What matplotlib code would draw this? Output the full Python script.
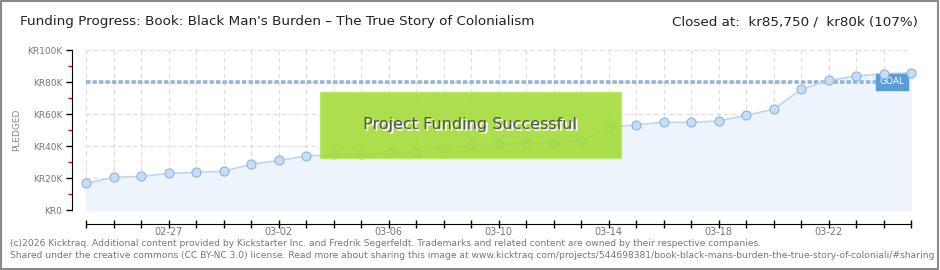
import datetime as dt

import matplotlib
matplotlib.use('Agg')
import matplotlib.pyplot as plt
import matplotlib.dates as mdates
from matplotlib.patches import Rectangle
from matplotlib.ticker import MultipleLocator, FuncFormatter

plt.rcParams['font.family'] = ['DejaVu Sans']

# data (thousands of kr pledged, one point per day)
start = dt.date(2016, 2, 24)
pledged = [16.7, 20.4, 21.0, 22.9, 23.5, 24.2, 28.5, 31.0, 33.6, 34.8,
           34.8, 35.4, 36.0, 38.7, 40.4, 41.0, 41.7, 41.7, 43.1, 51.7,
           53.3, 54.8, 54.8, 55.6, 59.2, 62.9, 75.4, 81.0, 83.7, 85.2, 85.75]
days = [start + dt.timedelta(days=i) for i in range(len(pledged))]
goal = 80

title = "Funding Progress: Book: Black Man's Burden \u2013 The True Story of Colonialism"
status = "Closed at:  kr85,750 /  kr80k (107%)"
footer1 = ("(c)2026 Kicktraq. Additional content provided by Kickstarter Inc. and Fredrik "
           "Segerfeldt. Trademarks and related content are owned by their respective companies.")
footer2 = ("Shared under the creative commons (CC BY-NC 3.0) license. Read more about sharing "
           "this image at www.kicktraq.com/projects/544698381/book-black-mans-burden-the-true-"
           "story-of-coloniali/#sharing")

fig = plt.figure(figsize=(9.4, 2.7), dpi=100)
ax = fig.add_axes([86 / 940, 1 - 210 / 270, 825 / 940, 160 / 270])

# frame around the whole image
fig.patches.append(Rectangle((0.001, 0.002), 0.997, 0.995, transform=fig.transFigure,
                             fill=False, edgecolor='#8a8a8a', linewidth=1.5))

ax.fill_between(days, pledged, 0, color='#edf4fc', zorder=1)
ax.plot(days, pledged, color='#bcd6f3', linewidth=1.2, zorder=3)
ax.plot(days, pledged, 'o', markersize=6.5, markerfacecolor='#c6ddf6',
        markeredgecolor='#93b3d8', markeredgewidth=0.8, zorder=4, clip_on=False)
ax.axhline(goal, color='#93b4da', linewidth=2.6, linestyle=(0, (1.2, 0.6)), zorder=2)

ax.set_xlim(days[0], days[-1])
ax.set_ylim(0, 100)

ax.grid(True, color='#dddddd', linestyle=(0, (4, 3)), linewidth=0.8)
ax.set_axisbelow(True)
ax.xaxis.set_major_locator(mdates.DayLocator())
ax.xaxis.set_major_formatter(FuncFormatter(
    lambda v, p: mdates.num2date(v).strftime('%m-%d') if (round(v) - mdates.date2num(days[3])) % 4 == 0 else ''))
ax.yaxis.set_major_locator(MultipleLocator(20))
ax.yaxis.set_minor_locator(MultipleLocator(10))
ax.yaxis.set_major_formatter(FuncFormatter(lambda v, p: 'KR%dK' % v if v else 'KR0'))

for s in ['top', 'right']:
    ax.spines[s].set_visible(False)
ax.spines['left'].set_position(('outward', 10))
ax.spines['bottom'].set_position(('outward', 10))
ax.tick_params(axis='x', direction='inout', length=6, width=1, colors='black',
               labelcolor='#777777', labelsize=7, pad=-1)
ax.tick_params(axis='y', which='major', direction='out', length=4, width=1,
               labelcolor='#777777', labelsize=6.5, pad=3)
ax.tick_params(axis='y', which='minor', direction='out', length=3, width=1, color='red')
ax.set_ylabel('PLEDGED', fontsize=6.5, color='#888888')
ax.yaxis.set_label_coords(-65 / 825, 0.5)

# goal tag
ax.text(0.992, goal, 'GOAL', transform=ax.get_yaxis_transform(), ha='right', va='center',
        fontsize=6.5, color='white', zorder=3.5,
        bbox=dict(boxstyle='square,pad=0.4', facecolor='#5b9bd8', edgecolor='#5b9bd8'))

# success banner
ax.add_patch(Rectangle((0.2836, 0.325), 0.365, 0.4125, transform=ax.transAxes,
                       facecolor='#a3dc3a', edgecolor='#b8e85c', alpha=0.9, zorder=5))
ax.text(0.4675, 0.525, 'Project Funding Successful', transform=ax.transAxes,
        ha='center', va='center', fontsize=11.5, color='white', zorder=6)
ax.text(0.4655, 0.535, 'Project Funding Successful', transform=ax.transAxes,
        ha='center', va='center', fontsize=11.5, color='#555555', zorder=7)

fig.text(20 / 940, 1 - 22 / 270, title, fontsize=9.7, color='#222222', va='center')
fig.text(918 / 940, 1 - 22 / 270, status, fontsize=9.7, color='#222222', va='center', ha='right')
fig.text(10 / 940, 1 - 243 / 270, footer1, fontsize=6.6, color='#777777', va='center')
fig.text(10 / 940, 1 - 256 / 270, footer2, fontsize=6.6, color='#777777', va='center')

fig.savefig('out.png', dpi=100)
